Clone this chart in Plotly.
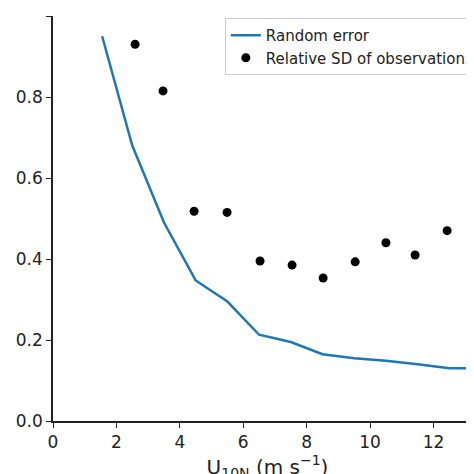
import plotly.graph_objects as go

line_x = [1.55, 2.5, 3.5, 4.5, 5.5, 6.5, 7.5, 8.5, 9.5, 10.5, 11.5, 12.5, 13.5]
line_y = [0.95, 0.68, 0.49, 0.347, 0.295, 0.213, 0.195, 0.165, 0.155, 0.149, 0.14, 0.13, 0.13]
obs_x = [2.59, 3.47, 4.45, 5.49, 6.53, 7.54, 8.52, 9.53, 10.5, 11.42, 12.43]
obs_y = [0.93, 0.815, 0.518, 0.515, 0.395, 0.385, 0.353, 0.393, 0.44, 0.41, 0.47]

fig = go.Figure()
fig.add_trace(go.Scatter(x=line_x, y=line_y, mode="lines", name="Random error",
                         line=dict(color="#1f77b4", width=2.5)))
fig.add_trace(go.Scatter(x=obs_x, y=obs_y, mode="markers", name="Relative SD of observations",
                         marker=dict(color="black", size=9)))
ax = dict(showgrid=False, zeroline=False, showline=True, linecolor="#222", linewidth=1.5,
          ticks="outside", ticklen=5, tickcolor="#222", mirror=False, automargin=False,
          tickfont=dict(size=17))
fig.update_layout(
    width=474, height=474, margin=dict(l=45, r=0, t=8, b=61),
    paper_bgcolor="white", plot_bgcolor="white",
    font=dict(family="DejaVu Sans", size=17, color="#222"),
    xaxis=dict(range=[0, 13.53], tickvals=[0, 2, 4, 6, 8, 10, 12],
               title=dict(text="U<sub>10N</sub> (m s<sup>−1</sup>)", standoff=4), **ax),
    yaxis=dict(range=[0, 1.0], tickvals=[0, 0.2, 0.4, 0.6, 0.8, 1.0],
               tickformat=".1f", **ax),
    legend=dict(x=0.995, y=0.995, xanchor="right", yanchor="top", bgcolor="white",
                bordercolor="#ccc", borderwidth=1, font=dict(size=15)),
    showlegend=True,
)
fig.write_html("out.html")
